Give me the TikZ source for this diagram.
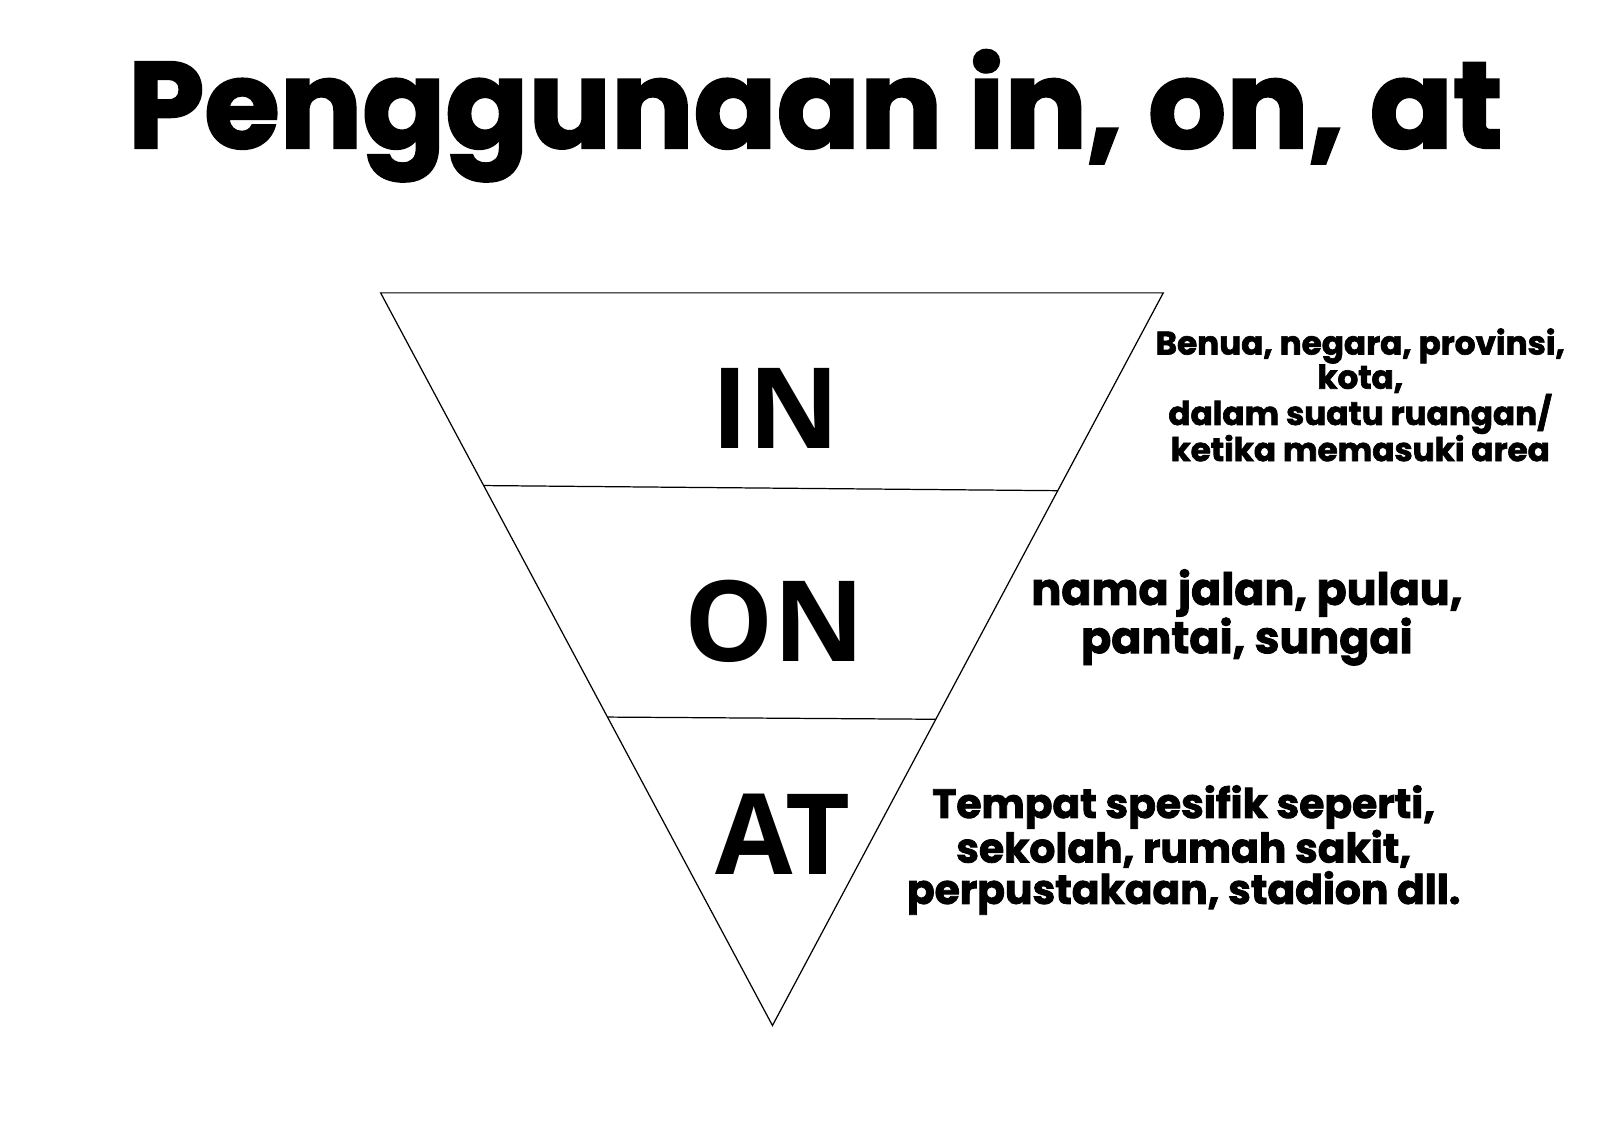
\documentclass[tikz,border=0pt]{standalone}
\usepackage{fontspec}
\usetikzlibrary{calc}
\setmainfont{Poppins}[BoldFeatures={FakeBold=2}]
\newfontfamily\levelfont{Open Sans}
\tikzset{
  level/.style={anchor=base, font=\levelfont\fontsize{110}{110}\selectfont\bfseries},
  usage/.style={align=center, font=\bfseries}
}
\begin{document}
\begin{tikzpicture}[x=1pt,y=-1pt]
\useasboundingbox (0,0) rectangle (1568,1108.4);
\node [anchor=base, font=\fontsize{120}{120}\selectfont\bfseries] (title) at (799,145) {Penggunaan in, on, at};

% triangle
\coordinate (tl) at (373,287);
\coordinate (tr) at (1140,287);
\coordinate (apex) at (757,1005);
\draw [line width=1.2] (tl)--(tr)--(apex)--cycle;
\draw [line width=1.2] ($(tl)!.263!(apex)$)--($(tr)!.270!(apex)$);
\draw [line width=1.2] ($(tl)!.579!(apex)$)--($(tr)!.582!(apex)$);

\node [level] (in) at (760,440) {IN};
\node [level] (on) at (759,648) {ON};
\node [level] (at) at (767,857) {AT};

\node [usage, font=\bfseries\fontsize{32}{32}\selectfont] (inuse) at (1333,387)
  {Benua, negara, provinsi,\\kota,\\ dalam suatu ruangan/\\ketika memasuki area};
\node [usage, font=\bfseries\fontsize{43.5}{44}\selectfont] (onuse) at (1222,605)
  {nama jalan, pulau,\\pantai, sungai};
\node [usage, font=\bfseries\fontsize{40}{40.5}\selectfont] (atuse) at (1160,833)
  {Tempat spesifik seperti,\\sekolah, rumah sakit,\\perpustakaan, stadion dll.};
\end{tikzpicture}
\end{document}
